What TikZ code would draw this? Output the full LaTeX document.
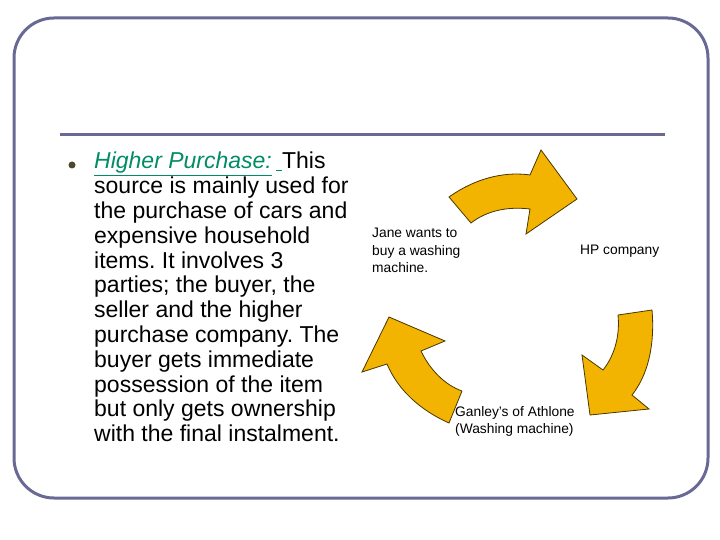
\documentclass[tikz,border=0pt]{standalone}
\usepackage{fontspec}
\setmainfont{Liberation Sans}
\frenchspacing
\definecolor{frame}{RGB}{105,105,150}
\definecolor{arr}{RGB}{242,180,0}
\definecolor{hp}{RGB}{0,140,100}
\begin{document}
\begin{tikzpicture}[x=1pt,y=-1pt,
  arrowshape/.style={fill=arr,draw=black!70!arr,line width=0.8pt,line join=miter},
  lbl/.style={font=\fontsize{13.8}{17.5}\selectfont,align=left,anchor=north west,inner sep=0pt}]
\useasboundingbox (0,0) rectangle (720,540);
\draw[frame,line width=3pt,rounded corners=40pt] (14,18) rectangle (708,498);
\coordinate (l1) at (60,135); \coordinate (l2) at (665,135);
\draw[frame,line width=3pt] (l1) -- (l2);
\fill[black!60!olive] (72,165) circle (3.5pt);
\node[anchor=north west,inner sep=0pt,align=left,font=\fontsize{23}{24.8}\selectfont] (txt) at (94,152)
{{\color{hp}\underline{\textit{Higher Purchase:}}\,\underline{\ }}This\\source is mainly used for\\the purchase of cars and\\expensive household\\items. It involves 3\\parties; the buyer, the\\seller and the higher\\purchase company. The\\buyer gets immediate\\possession of the item\\but only gets ownership\\with the final instalment.};
\draw[arrowshape] (449,197) .. controls (480,175) and (510,172) .. (530,175) -- (541,150) -- (577,199) -- (526,234) -- (530,209) .. controls (505,206) and (485,212) .. (471,223) -- cycle;
\draw[arrowshape] (618,315) -- (652,310) .. controls (655,345) and (648,375) .. (632,395) -- (649,409) -- (590,415) -- (582,355) -- (603,370) .. controls (615,355) and (620,335) .. (618,315);
\draw[arrowshape] (462,391) -- (449,423) .. controls (420,410) and (398,390) .. (387,364) -- (362,372) -- (389,317) -- (445,341) -- (421,351) .. controls (430,370) and (445,385) .. (462,391);
\node[lbl] (jane) at (372,228) {Jane wants to\\buy a washing\\machine.};
\node[lbl] (hpc) at (580,245) {HP company};
\node[lbl] (gan) at (455,406) {Ganley's of Athlone\\ (Washing machine)};
\end{tikzpicture}
\end{document}
